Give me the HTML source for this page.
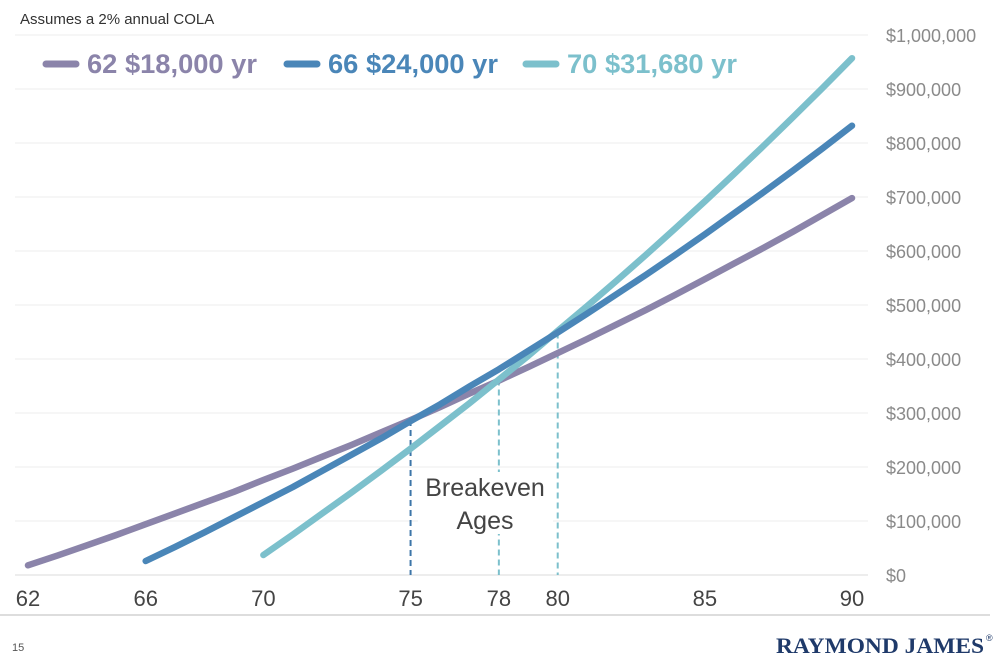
<!DOCTYPE html>
<html><head><meta charset="utf-8">
<style>
body{margin:0;background:#fff;font-family:"Liberation Sans",sans-serif;}
#wrap{position:relative;width:1000px;height:664px;overflow:hidden;background:#fff;}
</style></head>
<body>
<div id="wrap">
<svg id="chart" width="1000" height="664"></svg>
</div>
<script>
const ages62 = [62,63,64,65,66,67,68,69,70,71,72,73,74,75,76,77,78,79,80,81,82,83,84,85,86,87,88,89,90];
const vals62 = [18,36,55,74,94,114,134,154,176,197,219,241,264,287,311,336,360,385,411,437,464,491,519,548,577,606,636,667,698];
const ages66 = [66,67,68,69,70,71,72,73,74,75,76,77,78,79,80,81,82,83,84,85,86,87,88,89,90];
const vals66 = [26,52,79,107,135,163,193,223,253,285,316,349,381,415,449,484,520,556,593,631,670,709,749,790,832];
const ages70 = [70,71,72,73,74,75,76,77,78,79,80,81,82,83,84,85,86,87,88,89,90];
const vals70 = [37,75,114,153,193,234,276,318,362,406,452,498,545,593,642,692,743,795,848,902,957];
const xTicks = [62,66,70,75,78,80,85,90];
const yTicks = [0,100,200,300,400,500,600,700,800,900,1000];
const yTickLabels = ["$0","$100,000","$200,000","$300,000","$400,000","$500,000","$600,000","$700,000","$800,000","$900,000","$1,000,000"];
const breakevenAges = [75,78,80];
const breakevenVals = [287,362,449];
const legendLabels = ["62 $18,000 yr","66 $24,000 yr","70 $31,680 yr"];

const NS="http://www.w3.org/2000/svg";
const svg=document.getElementById('chart');
const xs=a=>28+(a-62)*(852-28)/28;
const ys=v=>575-v*0.54;
function mk(tag,attrs){const e=document.createElementNS(NS,tag);for(const k in attrs)e.setAttribute(k,attrs[k]);svg.appendChild(e);return e;}

let t=mk('text',{x:20,y:24,'font-size':15,fill:'#333'});t.textContent='Assumes a 2% annual COLA';



yTicks.forEach((v,i)=>{
  const l=mk('line',{x1:15,x2:868,y1:ys(v),y2:ys(v),stroke:i==0?'#e2e2e2':'#f1f1f1','stroke-width':1.3});
  
  
  const tx=mk('text',{x:886,y:ys(v)+7,'font-size':18,fill:'#8a8a8a'});tx.textContent=yTickLabels[i];
  
  
});
const sep=mk('line',{x1:0,x2:990,y1:615,y2:615,stroke:'#ddd','stroke-width':2});



const dashCols=['#3e76a8','#7cc0cc','#7cc0cc'];
breakevenAges.forEach((a,i)=>{
  const l=mk('line',{x1:xs(a),x2:xs(a),y1:ys(breakevenVals[i]),y2:575,stroke:dashCols[i],'stroke-width':2,'stroke-dasharray':'6,4'});
  
  
});
const bg=mk('rect',{x:418,y:472,width:135,height:62,fill:'#fff'});


[['Breakeven',496],['Ages',529]].forEach(([s,y])=>{
  const tx=mk('text',{x:485,y:y,'font-size':25,fill:'#444','text-anchor':'middle'});tx.textContent=s;
  
  
});

const series=[[ages62,vals62,'#8b84aa','series-62'],[ages70,vals70,'#7cc0cc','series-70'],[ages66,vals66,'#4a86b8','series-66']];
series.forEach(([ag,vs,c,n])=>{
  const d=ag.map((a,i)=>(i?'L':'M')+xs(a).toFixed(1)+','+ys(vs[i]).toFixed(1)).join(' ');
  const p=mk('path',{d:d,fill:'none',stroke:c,'stroke-width':6.5,'stroke-linecap':'round','stroke-linejoin':'round'});
  
  
});

xTicks.forEach(a=>{
  const tx=mk('text',{x:xs(a),y:606,'font-size':22,fill:'#444','text-anchor':'middle'});tx.textContent=a;
  
  
});

const legCols=['#8b84aa','#4a86b8','#7cc0cc'];
const legX=[46,287,526];
legendLabels.forEach((s,i)=>{
  const l=mk('line',{x1:legX[i],x2:legX[i]+30,y1:64,y2:64,stroke:legCols[i],'stroke-width':7,'stroke-linecap':'round'});
  
  
  const tx=mk('text',{x:legX[i]+41,y:73,'font-size':27,'font-weight':'bold',fill:legCols[i],textLength:170,lengthAdjust:'spacingAndGlyphs'});tx.textContent=s;
  
  
});

let pg=mk('text',{x:12,y:651,'font-size':11,fill:'#555'});pg.textContent='15';


let logo=mk('text',{x:776,y:653,'font-size':22,'font-weight':'bold','font-family':'Liberation Serif, serif',fill:'#1f3a6a',textLength:208,lengthAdjust:'spacingAndGlyphs'});logo.textContent='RAYMOND JAMES';


let reg=mk('text',{x:986,y:641,'font-size':9,fill:'#1f3a6a'});reg.textContent='®';


</script>
</body></html>
